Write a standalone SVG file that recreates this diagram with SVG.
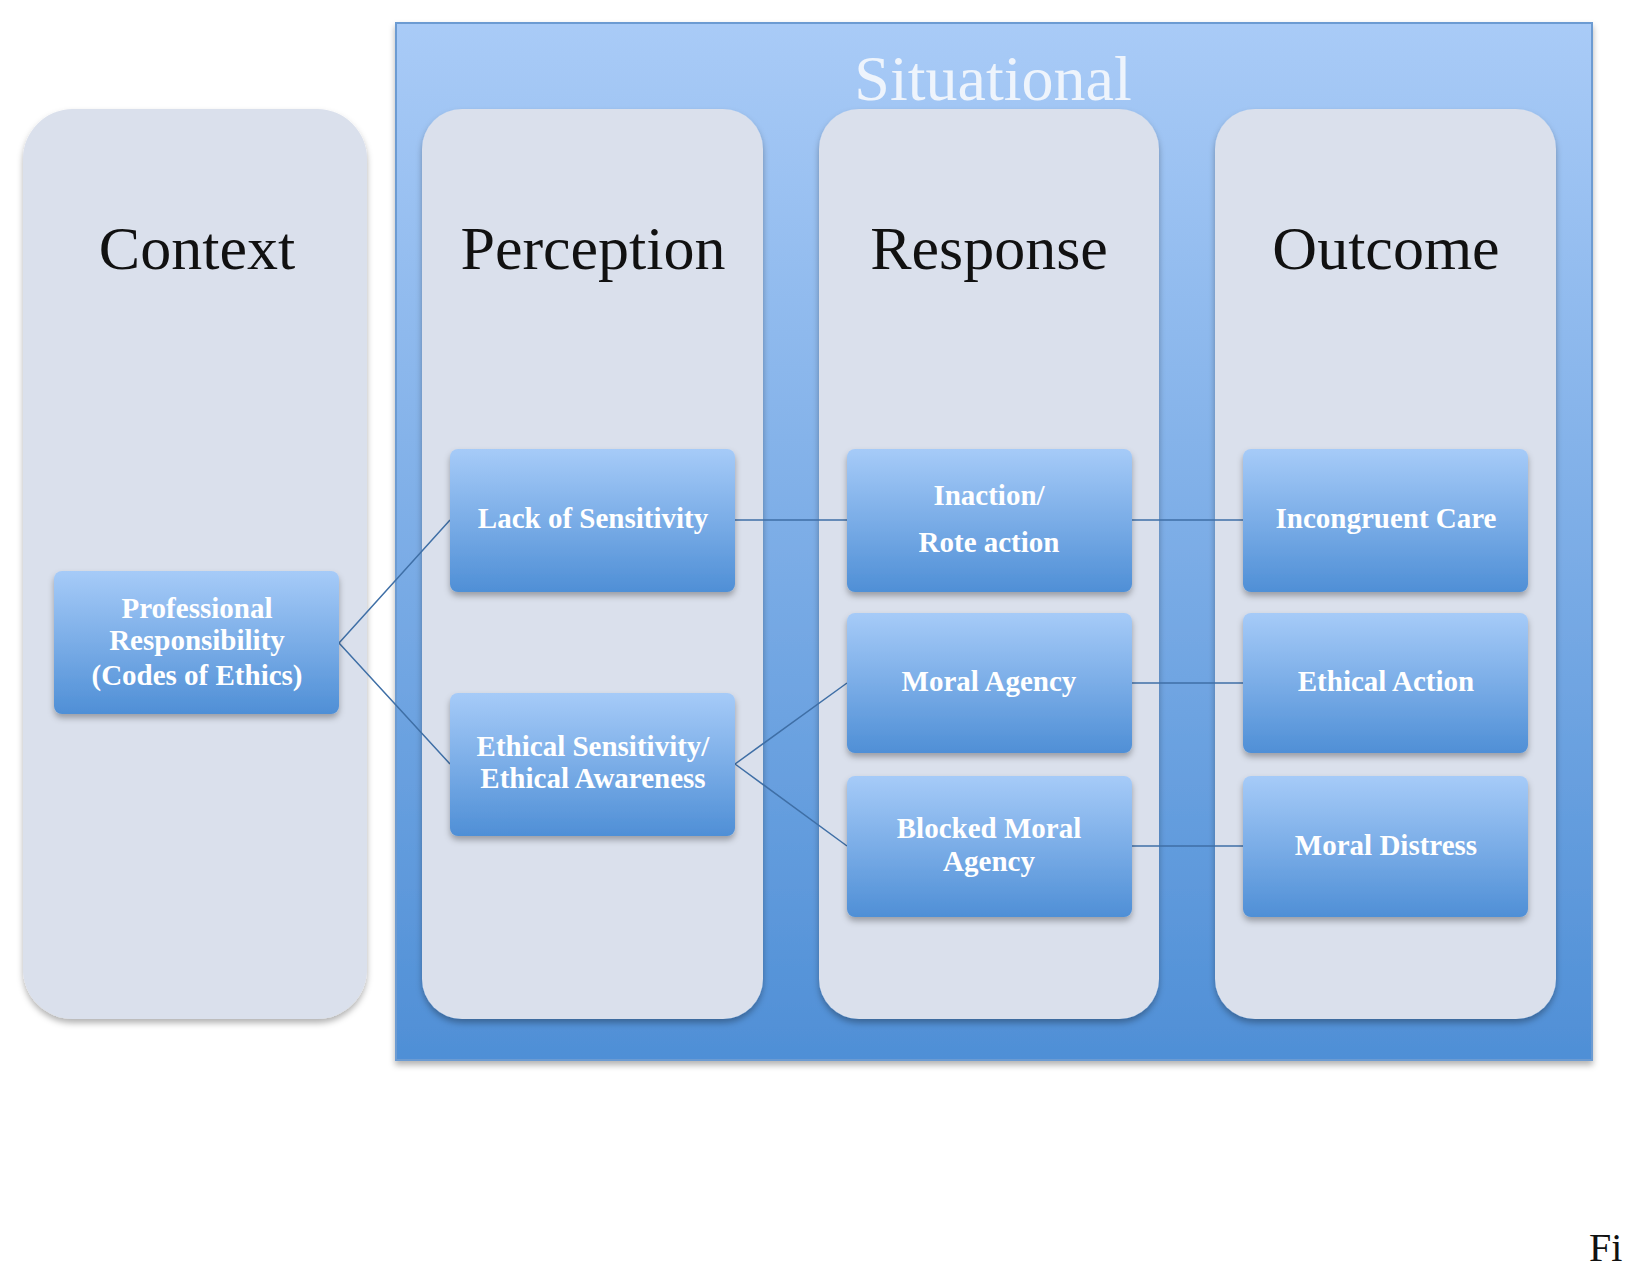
<svg xmlns="http://www.w3.org/2000/svg" width="1626" height="1263" viewBox="0 0 1626 1263">
<defs>
<linearGradient id="sit" x1="0" y1="0" x2="0" y2="1"><stop offset="0" stop-color="#a9cbf7"/><stop offset="1" stop-color="#4f8fd6"/></linearGradient>
<linearGradient id="nd" x1="0" y1="0" x2="0" y2="1"><stop offset="0" stop-color="#a6cbf8"/><stop offset="1" stop-color="#4f8fd6"/></linearGradient>
<filter id="sh" x="-10%" y="-10%" width="120%" height="130%"><feDropShadow dx="0" dy="4" stdDeviation="3" flood-color="#000" flood-opacity="0.3"/></filter>
</defs>
<style>
.col{fill:#dae0ec;filter:url(#sh)}
.nd{fill:url(#nd);filter:url(#sh)}
.tt{font-family:"Liberation Serif",serif;font-size:62px;fill:#111;text-anchor:middle}
.nt{font-family:"Liberation Serif",serif;font-size:29px;font-weight:bold;fill:#fff;text-anchor:middle}
.cn{stroke:#3f6fa6;stroke-width:1.5;fill:none}
</style>
<rect width="1626" height="1263" fill="#fff"/>
<g id="situational">
<rect x="396" y="23" width="1196" height="1037" fill="url(#sit)" stroke="#6c9bd2" stroke-width="2" filter="url(#sh)"/>
<text x="993" y="100" class="tt" style="fill:#eef4fc;font-size:64px">Situational</text>
</g>
<g id="context"><rect class="col" x="23" y="109" width="344" height="910" rx="50"/><text class="tt" x="197" y="269">Context</text></g>
<g id="perception"><rect class="col" x="422" y="109" width="341" height="910" rx="40"/><text class="tt" x="593" y="269">Perception</text></g>
<g id="response"><rect class="col" x="819" y="109" width="340" height="910" rx="40"/><text class="tt" x="989" y="269">Response</text></g>
<g id="outcome"><rect class="col" x="1215" y="109" width="341" height="910" rx="40"/><text class="tt" x="1386" y="269">Outcome</text></g>
<g id="connectors">
<path class="cn" d="M339 643 L450 520 M339 643 L450 764 M735 520 L847 520 M735 764 L847 683 M735 764 L847 846 M1132 520 L1243 520 M1132 683 L1243 683 M1132 846 L1243 846"/>
</g>
<g id="prof"><rect class="nd" x="54" y="571" width="285" height="143" rx="8"/><text class="nt" x="197" y="618">Professional</text><text class="nt" x="197" y="650">Responsibility</text><text class="nt" x="197" y="685">(Codes of Ethics)</text></g>
<g id="lack"><rect class="nd" x="450" y="449" width="285" height="143" rx="8"/><text class="nt" x="593" y="528">Lack of Sensitivity</text></g>
<g id="ethsens"><rect class="nd" x="450" y="693" width="285" height="143" rx="8"/><text class="nt" x="593" y="756">Ethical Sensitivity/</text><text class="nt" x="593" y="788">Ethical Awareness</text></g>
<g id="inaction"><rect class="nd" x="847" y="449" width="285" height="143" rx="8"/><text class="nt" x="989" y="505">Inaction/</text><text class="nt" x="989" y="552">Rote action</text></g>
<g id="moralagency"><rect class="nd" x="847" y="613" width="285" height="140" rx="8"/><text class="nt" x="989" y="691">Moral Agency</text></g>
<g id="blocked"><rect class="nd" x="847" y="776" width="285" height="141" rx="8"/><text class="nt" x="989" y="838">Blocked Moral</text><text class="nt" x="989" y="871">Agency</text></g>
<g id="incongruent"><rect class="nd" x="1243" y="449" width="285" height="143" rx="8"/><text class="nt" x="1386" y="528">Incongruent Care</text></g>
<g id="ethaction"><rect class="nd" x="1243" y="613" width="285" height="140" rx="8"/><text class="nt" x="1386" y="691">Ethical Action</text></g>
<g id="distress"><rect class="nd" x="1243" y="776" width="285" height="141" rx="8"/><text class="nt" x="1386" y="855">Moral Distress</text></g>
<text x="1589" y="1261" font-family="Liberation Serif,serif" font-size="40" fill="#111">Fi</text>
</svg>
